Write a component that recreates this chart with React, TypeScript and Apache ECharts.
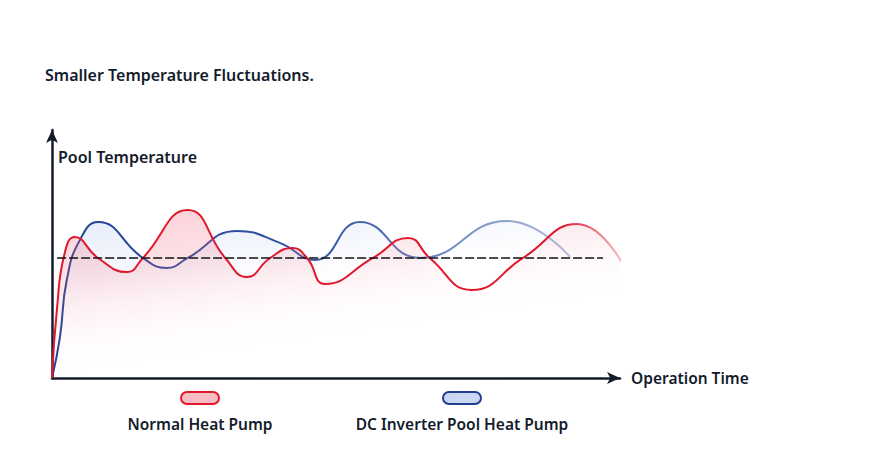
import React, { useEffect, useRef } from "react";
import * as echarts from "echarts";

const titleText = "Smaller Temperature Fluctuations.";
const yAxisName = "Pool Temperature";
const xAxisName = "Operation Time";
const seriesNames = ["Normal Heat Pump", "DC Inverter Pool Heat Pump"];

// [time, temperature] in arbitrary units (0..100)
const normalPump: number[][] = [
  [0, 0], [0.9, 28.6], [2.2, 50.0], [4.0, 56.9], [8.1, 48.4], [13.2, 42.7],
  [16.0, 48.4], [23.9, 67.7], [30.5, 48.4], [34.3, 40.7], [38.4, 48.4],
  [42.3, 52.4], [44.9, 48.4], [48.1, 37.9], [56.5, 48.4], [62.7, 56.5],
  [66.5, 48.4], [73.9, 35.5], [82.9, 48.4], [92.4, 62.1], [101.8, 40.3],
];
const inverterPump: number[][] = [
  [0, 0], [1.4, 16.5], [2.6, 39.5], [4.9, 55.6], [8.1, 62.9], [16.0, 48.4],
  [20.2, 44.4], [23.9, 48.4], [32.6, 59.3], [40.1, 54.5], [46.3, 47.6],
  [54.2, 62.9], [64.8, 48.4], [80.1, 63.3], [91.2, 48.8],
];
const targetLine: number[][] = [
  [0.9, 48.4], [97.0, 48.4],
];

const FONT = "'Noto Sans', 'Open Sans', sans-serif";
const DARK = "#141c2c";

export default function App() {
  const ref = useRef<HTMLDivElement>(null);
  useEffect(() => {
    if (!ref.current) return;
    const chart = echarts.init(ref.current, undefined, { renderer: "svg" });
    const lg = echarts.graphic.LinearGradient;
    chart.setOption({
      animation: false,
      backgroundColor: "#ffffff",
      title: {
        text: titleText,
        left: 40,
        top: 62,
        textStyle: { fontFamily: FONT, fontSize: 16, fontWeight: 600, color: DARK },
      },
      grid: { left: 52, right: 267, top: 130, bottom: 72 },
      xAxis: {
        type: "value",
        min: 0,
        max: 100,
        name: xAxisName,
        nameLocation: "end",
        nameGap: 11,
        nameTextStyle: { fontFamily: FONT, fontSize: 15.5, fontWeight: 600, color: DARK },
        axisLine: {
          lineStyle: { color: DARK, width: 2.5 },
          symbol: ["none", "arrow"],
          symbolSize: [9, 13],
        },
        axisTick: { show: false },
        axisLabel: { show: false },
        splitLine: { show: false },
      },
      yAxis: {
        type: "value",
        min: 0,
        max: 100,
        axisLine: {
          show: true,
          lineStyle: { color: DARK, width: 2.5 },
          symbol: ["none", "arrow"],
          symbolSize: [9, 13],
        },
        axisTick: { show: false },
        axisLabel: { show: false },
        splitLine: { show: false },
      },
      graphic: [
        {
          type: "text",
          left: 58,
          top: 149,
          style: { text: yAxisName, font: `600 16px ${FONT}`, fill: DARK },
        },
        {
          type: "rect",
          shape: { x: 181, y: 392, width: 38, height: 12, r: 6 },
          style: { fill: "#f8bcc3", stroke: "#e0182b", lineWidth: 2 },
        },
        {
          type: "rect",
          shape: { x: 443, y: 392, width: 38, height: 12, r: 6 },
          style: { fill: "#c9d7f3", stroke: "#1e3f8f", lineWidth: 2 },
        },
        {
          type: "text",
          x: 200,
          y: 424,
          style: {
            text: seriesNames[0], font: `600 15.5px ${FONT}`, fill: DARK,
            align: "center", verticalAlign: "middle",
          },
        },
        {
          type: "text",
          x: 462,
          y: 424,
          style: {
            text: seriesNames[1], font: `600 15.5px ${FONT}`, fill: DARK,
            align: "center", verticalAlign: "middle",
          },
        },
      ],
      series: [
        {
          name: seriesNames[1],
          type: "line",
          data: inverterPump,
          smooth: 0.5,
          symbol: "none",
          clip: false,
          z: 2,
          lineStyle: {
            width: 2,
            color: new lg(0, 0, 1, 0, [
              { offset: 0, color: "#1e3f8f" },
              { offset: 0.55, color: "#3a5aa8" },
              { offset: 1, color: "rgba(58,90,168,0.4)" },
            ]),
          },
          areaStyle: {
            color: new lg(0, 0, 0.4, 1, [
              { offset: 0, color: "rgba(120,155,225,0.28)" },
              { offset: 0.25, color: "rgba(140,170,230,0.16)" },
              { offset: 0.5, color: "rgba(160,185,235,0.0)" },
            ]),
          },
        },
        {
          name: seriesNames[0],
          type: "line",
          data: normalPump,
          smooth: 0.5,
          symbol: "none",
          clip: false,
          z: 3,
          lineStyle: {
            width: 2,
            color: new lg(0, 0, 1, 0, [
              { offset: 0, color: "#e0182b" },
              { offset: 0.88, color: "#e0182b" },
              { offset: 1, color: "rgba(224,24,43,0.2)" },
            ]),
          },
          areaStyle: {
            color: new lg(0, 0, 0.5, 1, [
              { offset: 0, color: "rgba(242,90,115,0.42)" },
              { offset: 0.3, color: "rgba(242,105,130,0.3)" },
              { offset: 0.55, color: "rgba(245,140,160,0.13)" },
              { offset: 0.8, color: "rgba(255,255,255,0)" },
            ]),
          },
        },
        {
          name: "target",
          type: "line",
          data: targetLine,
          symbol: "none",
          z: 5,
          lineStyle: { color: "#111111", width: 1.6, type: [9, 3] },
        },
      ],
    });
    return () => chart.dispose();
  }, []);
  return (
    <div
      ref={ref}
      style={{ position: "absolute", left: 0, top: 0, width: 887, height: 450 }}
    />
  );
}
